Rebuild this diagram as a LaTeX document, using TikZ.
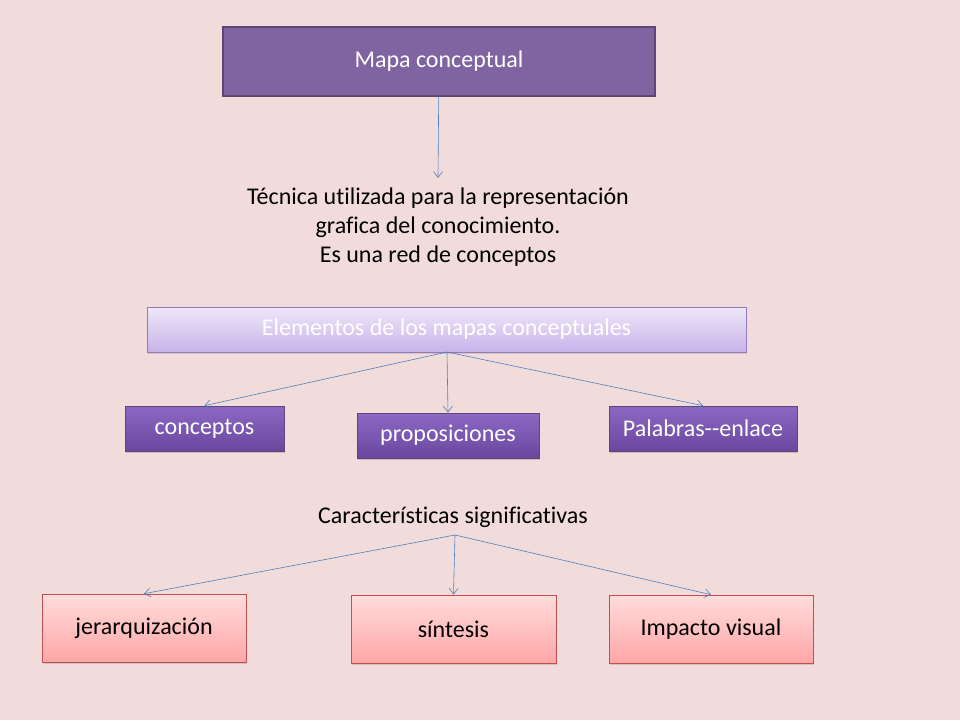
\documentclass[tikz,border=0pt]{standalone}
\usepackage{fontspec}
\setmainfont{Carlito}[Ligatures={TeX,NoCommon}]
\usetikzlibrary{positioning, arrows.meta, shadows}
\definecolor{slidebg}{HTML}{F2DCDB}
\definecolor{mappurple}{HTML}{8064A2}
\definecolor{mapborder}{HTML}{5C4776}
\definecolor{lavtop}{HTML}{EEE7F8}
\definecolor{lavbottom}{HTML}{C8B3EA}
\definecolor{lavborder}{HTML}{9479C0}
\definecolor{elemtop}{HTML}{8C68C4}
\definecolor{elembottom}{HTML}{6A479E}
\definecolor{linkblue}{HTML}{4F81BD}
\definecolor{pinktop}{HTML}{FFDCDC}
\definecolor{pinkdark}{HTML}{FFA6A6}
\definecolor{pinkborder}{HTML}{C0504D}
\tikzset{
  title box/.style = {draw=mapborder, line width=1.2pt, fill=mappurple, text=white,
    minimum width=432pt, minimum height=69pt, font=\fontsize{24}{29}\selectfont},
  head box/.style = {draw=lavborder, line width=0.6pt, top color=lavtop, bottom color=lavbottom,
    text=white, minimum width=599pt, minimum height=45pt, font=\fontsize{24}{29}\selectfont,
    drop shadow={opacity=0.25, shadow xshift=1pt, shadow yshift=-2pt}},
  element/.style = {draw=mapborder, line width=0.6pt, top color=elemtop, bottom color=elembottom,
    text=white, minimum height=45pt, font=\fontsize{24}{29}\selectfont,
    drop shadow={opacity=0.35, shadow xshift=1pt, shadow yshift=-2pt}},
  feature/.style = {draw=pinkborder, line width=0.6pt, top color=pinktop, bottom color=pinkdark,
    minimum width=204pt, minimum height=68pt, font=\fontsize{24}{29}\selectfont,
    drop shadow={opacity=0.3, shadow xshift=1pt, shadow yshift=-2pt}},
  plain text/.style = {align=center, font=\fontsize{24}{29}\selectfont},
  link/.style = {draw=linkblue, line width=0.6pt, -{Straight Barb[length=6pt, width=9pt]}}
}
\begin{document}
\begin{tikzpicture}[x=1pt, y=-1pt]
  \fill[slidebg] (0,0) rectangle (960,720);
  \useasboundingbox (0,0) rectangle (960,720);

  \node[title box] (mapa) at (439,61.5) {Mapa conceptual};

  \node[plain text] (tecnica) at (438,227)
    {Técnica utilizada para la representación\\grafica del conocimiento.\\Es una red de conceptos};

  \node[head box] (elementos) at (446.5,329.5) {Elementos de los mapas conceptuales};

  \node[element, minimum width=159pt] (conceptos) at (204.5,428.5) {conceptos};
  \node[element, minimum width=182pt] (proposiciones) at (448,435.5) {proposiciones};
  \node[element, minimum width=188pt] (palabras) at (703,428.5) {Palabras-{}-enlace};

  \node[plain text] (caracteristicas) at (453,517) {Características significativas};

  \node[feature] (jerarquia) at (144,628) {jerarquización};
  \node[feature, minimum width=205pt] (sintesis) at (453.5,629) {síntesis};
  \node[feature] (impacto) at (711,629) {Impacto visual};

  \coordinate (elemfoot) at (447,352);
  \coordinate (carfoot) at (455,535);

  \draw[link] (mapa) -- (438,178);
  \draw[link] (elemfoot) -- (conceptos.north);
  \draw[link] (elemfoot) -- (proposiciones.north);
  \draw[link] (elemfoot) -- (palabras.north);
  \draw[link] (carfoot) -- (jerarquia.north);
  \draw[link] (carfoot) -- (sintesis.north);
  \draw[link] (carfoot) -- (impacto.north);
\end{tikzpicture}
\end{document}
